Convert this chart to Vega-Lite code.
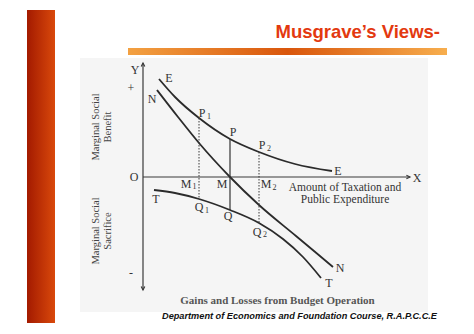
{
  "$schema": "https://vega.github.io/schema/vega-lite/v6.json",
  "width": 474,
  "height": 334,
  "autosize": {"type": "fit", "contains": "padding"},
  "padding": 0,
  "background": "white",
  "config": {"view": {"stroke": null}},
  "encoding": {
    "x": {"type": "quantitative", "scale": {"domain": [-143, 331], "nice": false, "zero": false}, "axis": null},
    "y": {"type": "quantitative", "scale": {"domain": [-157, 177], "nice": false, "zero": false}, "axis": null}
  },
  "layer": [
    {
      "data": {"values": [{"x0": -116, "x1": -88, "y0": 167, "y1": -146}]},
      "mark": {"type": "rect", "color": {"gradient": "linear", "stops": [{"offset": 0, "color": "#a31a00"}, {"offset": 1, "color": "#d9490b"}]}},
      "encoding": {"x": {"field": "x0"}, "x2": {"field": "x1"}, "y": {"field": "y0"}, "y2": {"field": "y1"}}
    },
    {
      "data": {"values": [{"x0": -15, "x1": 304, "y0": 129, "y1": 122}]},
      "mark": {"type": "rect", "color": {"gradient": "linear", "stops": [{"offset": 0, "color": "#f3a142"}, {"offset": 0.5, "color": "#d9560c"}, {"offset": 1, "color": "#f7ae4e"}]}},
      "encoding": {"x": {"field": "x0"}, "x2": {"field": "x1"}, "y": {"field": "y0"}, "y2": {"field": "y1"}}
    },
    {
      "data": {"values": [{"x0": -63, "x1": 285, "y0": 119, "y1": -135}]},
      "mark": {"type": "rect", "color": "#f5f5f5"},
      "encoding": {"x": {"field": "x0"}, "x2": {"field": "x1"}, "y": {"field": "y0"}, "y2": {"field": "y1"}}
    },
    {
      "data": {"values": [
        {"x0": 0, "x1": 0, "y0": 114, "y1": -113},
        {"x0": 0, "x1": 267, "y0": 0, "y1": 0}
      ]},
      "mark": {"type": "rule", "color": "#3a3a3a", "strokeWidth": 1.2},
      "encoding": {"x": {"field": "x0"}, "x2": {"field": "x1"}, "y": {"field": "y0"}, "y2": {"field": "y1"}}
    },
    {
      "data": {"values": [
        {"dir": "up", "x": 0, "y": 114},
        {"dir": "down", "x": 0, "y": -113},
        {"dir": "right", "x": 267, "y": 0}
      ]},
      "mark": {"type": "point", "filled": false, "color": "#3a3a3a", "strokeWidth": 1.2, "size": 36, "opacity": 1},
      "encoding": {
        "x": {"field": "x"},
        "y": {"field": "y"},
        "shape": {"field": "dir", "type": "nominal", "legend": null, "scale": {"domain": ["up", "down", "right"], "range": ["M-0.6,1.2L0,0L0.6,1.2", "M-0.6,-1.2L0,0L0.6,-1.2", "M-1.2,-0.6L0,0L-1.2,0.6"]}}
      }
    },
    {
      "data": {"values": [
        {"curve": "E", "x": 16, "y": 98},
        {"curve": "E", "x": 32, "y": 80},
        {"curve": "E", "x": 56, "y": 59},
        {"curve": "E", "x": 87, "y": 38},
        {"curve": "E", "x": 116, "y": 25},
        {"curve": "E", "x": 152, "y": 13},
        {"curve": "E", "x": 189, "y": 6},
        {"curve": "N", "x": 14, "y": 87},
        {"curve": "N", "x": 35, "y": 60},
        {"curve": "N", "x": 56, "y": 34},
        {"curve": "N", "x": 87, "y": 0},
        {"curve": "N", "x": 116, "y": -28},
        {"curve": "N", "x": 153, "y": -59},
        {"curve": "N", "x": 190, "y": -90},
        {"curve": "T", "x": 11, "y": -13},
        {"curve": "T", "x": 32, "y": -16},
        {"curve": "T", "x": 56, "y": -22},
        {"curve": "T", "x": 87, "y": -33},
        {"curve": "T", "x": 116, "y": -46},
        {"curve": "T", "x": 140, "y": -62},
        {"curve": "T", "x": 160, "y": -80},
        {"curve": "T", "x": 178, "y": -101}
      ]},
      "mark": {"type": "line", "interpolate": "monotone", "color": "#2b2b2b", "strokeWidth": 1.8},
      "encoding": {"x": {"field": "x"}, "y": {"field": "y"}, "detail": {"field": "curve"}}
    },
    {
      "data": {"values": [
        {"x": 56, "y0": 59, "y1": -22},
        {"x": 116, "y0": 25, "y1": -46}
      ]},
      "mark": {"type": "rule", "color": "#3a3a3a", "strokeWidth": 1, "strokeDash": [1.5, 1.5]},
      "encoding": {"x": {"field": "x"}, "y": {"field": "y0"}, "y2": {"field": "y1"}}
    },
    {
      "data": {"values": [{"x": 87, "y0": 38, "y1": -33}]},
      "mark": {"type": "rule", "color": "#333333", "strokeWidth": 1.2},
      "encoding": {"x": {"field": "x"}, "y": {"field": "y0"}, "y2": {"field": "y1"}}
    },
    {
      "data": {"values": [
        {"t": "Y", "x": -8, "y": 107},
        {"t": "+", "x": -12, "y": 89},
        {"t": "O", "x": -9, "y": 0},
        {"t": "-", "x": -12, "y": -96},
        {"t": "E", "x": 26, "y": 99},
        {"t": "N", "x": 9, "y": 78},
        {"t": "P", "x": 59, "y": 64},
        {"t": "P", "x": 90, "y": 45},
        {"t": "P", "x": 119, "y": 32},
        {"t": "E", "x": 195, "y": 6},
        {"t": "X", "x": 274, "y": -1},
        {"t": "M", "x": 43, "y": -7},
        {"t": "M", "x": 79, "y": -7},
        {"t": "M", "x": 123, "y": -7},
        {"t": "T", "x": 13, "y": -22},
        {"t": "Q", "x": 56, "y": -30},
        {"t": "Q", "x": 85, "y": -39},
        {"t": "Q", "x": 114, "y": -55},
        {"t": "N", "x": 197, "y": -91},
        {"t": "T", "x": 186, "y": -106}
      ]},
      "mark": {"type": "text", "font": "Liberation Serif", "fontSize": 12, "color": "#333333", "align": "center", "baseline": "middle"},
      "encoding": {"x": {"field": "x"}, "y": {"field": "y"}, "text": {"field": "t"}}
    },
    {
      "data": {"values": [
        {"t": "1", "x": 66, "y": 60},
        {"t": "2", "x": 126, "y": 28},
        {"t": "1", "x": 51.5, "y": -10},
        {"t": "2", "x": 131.5, "y": -11},
        {"t": "1", "x": 64, "y": -34},
        {"t": "2", "x": 122, "y": -58}
      ]},
      "mark": {"type": "text", "font": "Liberation Serif", "fontSize": 8, "color": "#333333", "align": "center", "baseline": "middle"},
      "encoding": {"x": {"field": "x"}, "y": {"field": "y"}, "text": {"field": "t"}}
    },
    {
      "data": {"values": [
        {"t": "Amount of Taxation and", "x": 202, "y": -11},
        {"t": "Public Expenditure", "x": 202, "y": -23}
      ]},
      "mark": {"type": "text", "font": "Liberation Serif", "fontSize": 11.5, "color": "#333333", "align": "center", "baseline": "middle"},
      "encoding": {"x": {"field": "x"}, "y": {"field": "y"}, "text": {"field": "t"}}
    },
    {
      "data": {"values": [
        {"t": "Marginal Social", "x": -47, "y": 50},
        {"t": "Benefit", "x": -35, "y": 50},
        {"t": "Marginal Social", "x": -47, "y": -54},
        {"t": "Sacrifice", "x": -35, "y": -54}
      ]},
      "mark": {"type": "text", "font": "Liberation Serif", "fontSize": 10.5, "color": "#444444", "align": "center", "baseline": "middle", "angle": 270},
      "encoding": {"x": {"field": "x"}, "y": {"field": "y"}, "text": {"field": "t"}}
    },
    {
      "data": {"values": [{"t": "Gains and Losses from Budget Operation", "x": 134.5, "y": -124}]},
      "mark": {"type": "text", "font": "Liberation Serif", "fontWeight": "bold", "fontSize": 11, "color": "#555555", "align": "center", "baseline": "middle"},
      "encoding": {"x": {"field": "x"}, "y": {"field": "y"}, "text": {"field": "t"}}
    },
    {
      "data": {"values": [{"t": "Department of Economics and Foundation Course, R.A.P.C.C.E", "x": 294, "y": -142}]},
      "mark": {"type": "text", "font": "Liberation Sans", "fontWeight": "bold", "fontStyle": "italic", "fontSize": 9.2, "color": "#111111", "align": "right", "baseline": "alphabetic"},
      "encoding": {"x": {"field": "x"}, "y": {"field": "y"}, "text": {"field": "t"}}
    },
    {
      "data": {"values": [{"t": "Musgrave’s Views-", "x": 297, "y": 139.5}]},
      "mark": {"type": "text", "font": "Liberation Sans", "fontWeight": "bold", "fontSize": 18.5, "color": "#e3390f", "align": "right", "baseline": "alphabetic"},
      "encoding": {"x": {"field": "x"}, "y": {"field": "y"}, "text": {"field": "t"}}
    }
  ]
}
